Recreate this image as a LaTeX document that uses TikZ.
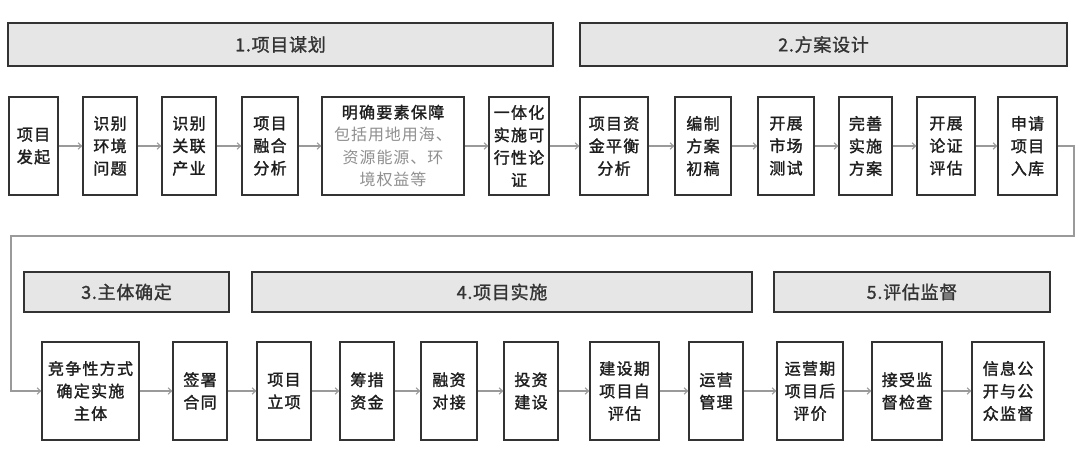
\documentclass[tikz,border=0pt]{standalone}
\usepackage{fontspec}
\usetikzlibrary{arrows.meta}
\newfontfamily\cjk{Noto Sans CJK SC}[LetterSpace=8,FakeBold=1.6]
\newfontfamily\cjksub{Noto Sans CJK SC}[LetterSpace=6]
\newfontfamily\cjkh{Noto Sans CJK SC}[LetterSpace=4,FakeBold=1.2]
\definecolor{boxline}{HTML}{333333}
\definecolor{hdrfill}{HTML}{E6E6E6}
\definecolor{arrgray}{HTML}{9A9A9A}
\definecolor{txt}{HTML}{1E1E1E}
\definecolor{subtxt}{HTML}{909090}
\tikzset{
  box/.style={draw=boxline, line width=1.3pt, fill=white, inner sep=1pt,
    align=center, text=txt, font=\cjk\fontsize{16}{22.5}\selectfont},
  hdr/.style={draw=boxline, line width=1.3pt, fill=hdrfill, inner sep=0pt,
    text=boxline, font=\cjkh\fontsize{18}{20}\selectfont},
  arr/.style={draw=arrgray, line width=1.2pt, -{Straight Barb[length=3.5pt,width=6.5pt,line width=1.1pt]}},
  conn/.style={draw=arrgray, line width=1.2pt, -{Straight Barb[length=3.5pt,width=6.5pt,line width=1.1pt]}},
  subt/.style={}
}
\newcommand\sub[1]{{\cjksub\color{subtxt}#1}}
\newcommand\tbx[4]{\node[box, minimum width={(#3-#2)*1pt}, minimum height=98pt] (#1) at ({(#2+#3)/2},146) {#4};}
\newcommand\bbx[4]{\node[box, minimum width={(#3-#2)*1pt}, minimum height=98pt] (#1) at ({(#2+#3)/2},391) {#4};}
\newcommand\hbx[6]{\node[hdr, minimum width={(#3-#2)*1pt}, minimum height={(#5-#4)*1pt}] (#1) at ({(#2+#3)/2},{(#4+#5)/2}) {#6};}
\begin{document}
\begin{tikzpicture}[x=1pt,y=-1pt]
\fill[white] (0,0) rectangle (1080,474);
\useasboundingbox (0,0) rectangle (1080,474);
% headers
\hbx{h1}{8}{553}{23}{66}{1.项目谋划}
\hbx{h2}{580}{1067}{23}{66}{2.方案设计}
\hbx{h3}{24}{229}{272}{312}{3.主体确定}
\hbx{h4}{252}{752}{272}{312}{4.项目实施}
\hbx{h5}{774}{1050}{272}{312}{5.评估监督}
% top row
\tbx{t1}{9}{58}{项目\\发起}
\tbx{t2}{83}{137}{识别\\环境\\问题}
\tbx{t3}{162}{216}{识别\\关联\\产业}
\tbx{t4}{242}{298}{项目\\融合\\分析}
\tbx{t5}{322}{464}{明确要素保障\\\sub{包括用地用海、}\\\sub{资源能源、环}\\\sub{境权益等}}
\tbx{t6}{489}{549}{一体化\\实施可\\行性论\\证}
\tbx{t7}{580}{648}{项目资\\金平衡\\分析}
\tbx{t8}{675}{731}{编制\\方案\\初稿}
\tbx{t9}{758}{814}{开展\\市场\\测试}
\tbx{t10}{839}{892}{完善\\实施\\方案}
\tbx{t11}{917}{975}{开展\\论证\\评估}
\tbx{t12}{998}{1057}{申请\\项目\\入库}
% bottom row
\bbx{b1}{42}{139}{竞争性方式\\确定实施\\主体}
\bbx{b2}{173}{227}{签署\\合同}
\bbx{b3}{257}{311}{项目\\立项}
\bbx{b4}{340}{394}{筹措\\资金}
\bbx{b5}{421}{477}{融资\\对接}
\bbx{b6}{504}{558}{投资\\建设}
\bbx{b7}{590}{659}{建设期\\项目自\\评估}
\bbx{b8}{689}{743}{运营\\管理}
\bbx{b9}{777}{843}{运营期\\项目后\\评价}
\bbx{b10}{872}{942}{接受监\\督检查}
\bbx{b11}{972}{1044}{信息公\\开与公\\众监督}
% arrows
\foreach \a/\b in {t1/t2,t2/t3,t3/t4,t4/t5,t5/t6,t6/t7,t7/t8,t8/t9,t9/t10,t10/t11,t11/t12,
  b1/b2,b2/b3,b3/b4,b4/b5,b5/b6,b6/b7,b7/b8,b8/b9,b9/b10,b10/b11}
  \draw[arr] (\a) -- (\b);
\coordinate (r1) at (1074,236);
\coordinate (l1) at (11,236);
\draw[conn] (t12.east) -| (r1) -- (l1) |- (b1.west);
\end{tikzpicture}
\end{document}
